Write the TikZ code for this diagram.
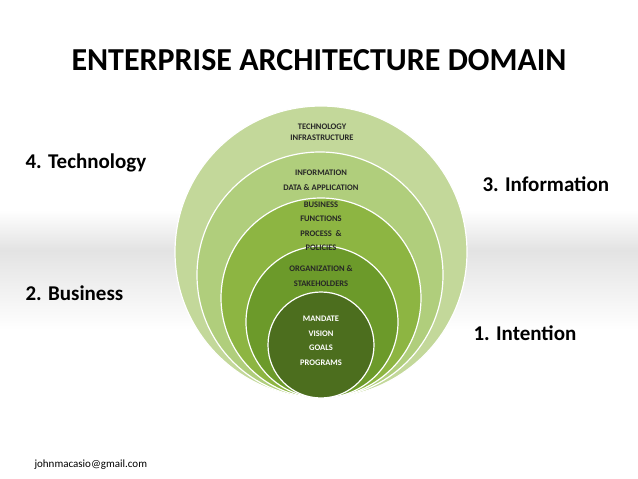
\documentclass[tikz,border=0pt]{standalone}
\usepackage{fontspec}
\setmainfont{Carlito}
\begin{document}
\begin{tikzpicture}[x=1pt,y=-1pt,
 ring/.style={draw=white,line width=1.2pt},
 lab/.style={font=\bfseries\fontsize{21}{24}\selectfont,anchor=west},
 tiny/.style={font=\bfseries\fontsize{8.5}{14.5}\selectfont,align=center,text=black!85}]
\useasboundingbox (0,0) rectangle (638,479);
\fill[white] (0,0) rectangle (638,479);
\shade[top color=white,bottom color=black!11] (0,210) rectangle (638,250);
\shade[top color=black!11,bottom color=white] (0,250) rectangle (638,330);
\node[font=\bfseries\fontsize{32}{36}\selectfont] (title) at (319,60) {ENTERPRISE ARCHITECTURE DOMAIN};
\fill[ring,fill={rgb,255:red,195;green,216;blue,154}] (321,252) circle (146);
\fill[ring,fill={rgb,255:red,176;green,206;blue,124}] (320,275) circle (123);
\fill[ring,fill={rgb,255:red,141;green,181;blue,66}] (321,298) circle (100);
\fill[ring,fill={rgb,255:red,108;green,154;blue,42}] (322,322) circle (76);
\fill[ring,fill={rgb,255:red,76;green,110;blue,30}] (321,345) circle (53);
\node[tiny] (t1) at (322,132) {TECHNOLOGY\\[-4pt]INFRASTRUCTURE};
\node[tiny] (t2) at (321,180) {INFORMATION\\DATA \& APPLICATION};
\node[tiny] (t3) at (321,226) {BUSINESS\\FUNCTIONS\\PROCESS\ \ \&\\POLICIES};
\node[tiny] (t4) at (321,276) {ORGANIZATION \&\\STAKEHOLDERS};
\node[tiny,text=white] (t5) at (321,341) {MANDATE\\VISION\\GOALS\\PROGRAMS};
\node[lab] (l4) at (22,163) {4. Technology};
\node[lab] (l3) at (479,184) {3. Information};
\node[lab] (l2) at (22,293) {2. Business};
\node[lab] (l1) at (470,333) {1. Intention};
\node[font=\fontsize{11}{13}\selectfont,anchor=west] (mail) at (31,465) {johnmacasio@gmail.com};
\end{tikzpicture}
\end{document}
